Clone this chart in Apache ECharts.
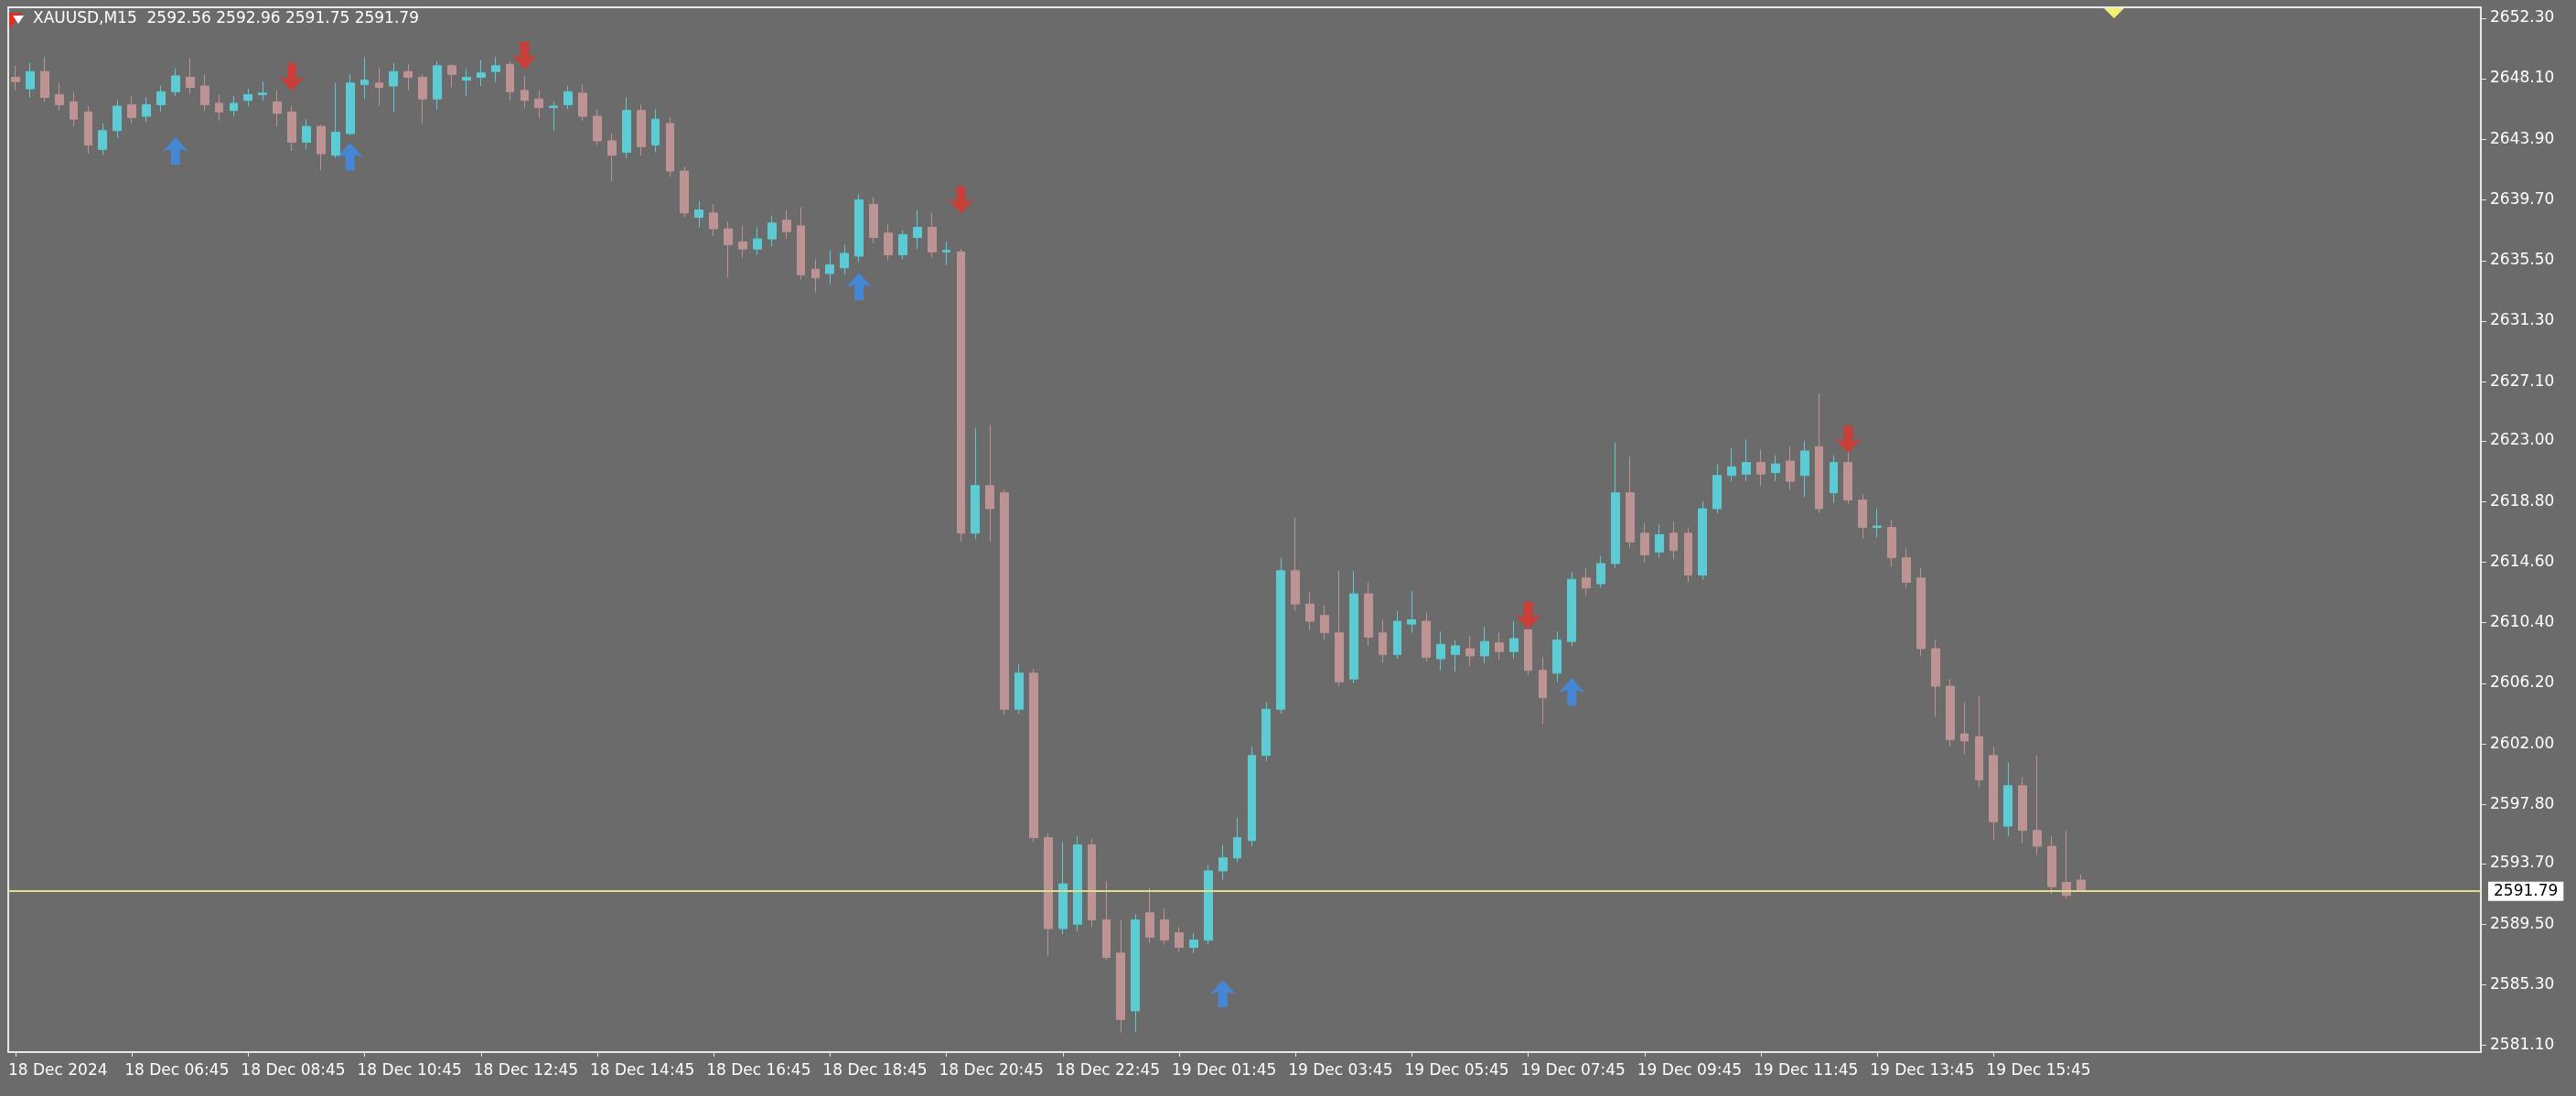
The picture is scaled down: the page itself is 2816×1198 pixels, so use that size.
<!DOCTYPE html>
<html><head><meta charset="utf-8">
<script src="https://cdn.jsdelivr.net/npm/echarts@6/dist/echarts.min.js"></script>
<style>html,body{margin:0;padding:0;background:#6b6b6b}#c{width:2816px;height:1198px}</style>
</head><body><div id="c"></div>
<script>
// [open, high, low, close] per 15-minute bar
const ohlc = [
[2648.2,2649.0,2647.3,2647.9],[2647.4,2649.2,2646.8,2648.6],[2648.6,2649.6,2646.5,2646.8],[2647.0,2647.8,2645.9,2646.3],
[2646.5,2647.2,2644.8,2645.3],[2645.8,2646.2,2642.9,2643.5],[2643.2,2645.0,2642.8,2644.5],[2644.5,2646.6,2644.0,2646.2],
[2646.3,2646.9,2645.0,2645.4],[2645.5,2646.8,2645.1,2646.3],[2646.3,2647.6,2645.8,2647.2],[2647.2,2648.8,2646.9,2648.3],
[2648.2,2649.5,2647.1,2647.5],[2647.6,2648.4,2645.9,2646.3],[2646.4,2647.0,2645.2,2645.8],[2645.9,2646.9,2645.5,2646.4],
[2646.6,2647.4,2646.2,2647.0],[2647.0,2647.9,2646.6,2647.1],[2646.5,2647.3,2644.8,2645.7],[2645.8,2646.2,2643.1,2643.7],
[2643.7,2645.3,2643.2,2644.8],[2644.8,2644.9,2641.8,2642.9],[2642.8,2647.8,2642.6,2644.4],[2644.3,2648.4,2644.2,2647.8],
[2647.7,2649.6,2646.7,2648.0],[2647.8,2648.9,2646.2,2647.5],[2647.6,2649.2,2645.8,2648.6],[2648.6,2649.1,2647.3,2648.2],
[2648.2,2648.4,2645.0,2646.7],[2646.7,2649.3,2646.0,2649.0],[2649.0,2649.1,2647.5,2648.4],[2648.0,2648.8,2646.9,2648.2],
[2648.2,2649.4,2647.6,2648.5],[2648.6,2649.6,2647.9,2649.0],[2649.1,2649.3,2646.6,2647.2],[2647.3,2648.3,2646.1,2646.6],
[2646.7,2647.3,2645.4,2646.1],[2646.1,2646.5,2644.5,2646.2],[2646.3,2647.6,2646.0,2647.2],[2647.1,2647.7,2645.2,2645.5],
[2645.5,2646.0,2643.5,2643.8],[2643.8,2644.3,2641.0,2642.8],[2643.0,2646.8,2642.6,2645.9],[2645.9,2646.3,2642.8,2643.4],
[2643.5,2646.0,2643.0,2645.3],[2645.0,2645.4,2641.3,2641.7],[2641.7,2642.0,2638.5,2638.8],[2638.5,2639.6,2637.8,2639.0],
[2638.8,2639.4,2637.2,2637.7],[2637.7,2638.2,2634.3,2636.6],[2636.8,2637.9,2635.7,2636.3],[2636.3,2637.8,2635.9,2637.0],
[2637.0,2638.6,2636.5,2638.1],[2638.3,2639.0,2637.0,2637.5],[2637.9,2639.2,2634.2,2634.5],[2634.9,2635.6,2633.3,2634.3],
[2634.6,2636.2,2633.9,2635.2],[2635.0,2636.6,2634.5,2636.0],[2635.8,2640.1,2635.4,2639.7],[2639.4,2639.9,2636.7,2637.1],
[2637.4,2638.0,2635.5,2635.9],[2635.9,2637.6,2635.6,2637.3],[2637.1,2639.0,2636.3,2637.8],[2637.8,2638.8,2635.7,2636.1],
[2636.1,2636.8,2635.2,2636.2],[2636.1,2636.3,2616.0,2616.6],[2616.6,2623.9,2616.2,2619.9],[2619.9,2624.1,2616.0,2618.3],
[2619.4,2619.6,2604.0,2604.4],[2604.4,2607.5,2604.1,2606.9],[2606.9,2607.2,2595.2,2595.5],[2595.5,2595.8,2587.3,2589.2],
[2589.2,2595.2,2588.8,2592.3],[2589.5,2595.6,2589.0,2595.0],[2595.0,2595.4,2589.3,2589.8],[2589.8,2592.5,2587.0,2587.2],
[2587.5,2589.8,2582.0,2582.9],[2583.5,2590.2,2582.0,2589.8],[2590.3,2592.0,2588.2,2588.6],[2589.8,2590.6,2588.1,2588.4],
[2588.9,2589.3,2587.6,2587.9],[2587.9,2588.9,2587.5,2588.4],[2588.4,2593.6,2588.1,2593.2],[2593.2,2595.0,2592.6,2594.1],
[2594.1,2596.9,2593.8,2595.5],[2595.3,2601.8,2594.9,2601.2],[2601.2,2604.9,2600.8,2604.4],[2604.4,2614.9,2604.1,2614.0],
[2614.0,2617.7,2611.2,2611.7],[2611.7,2612.5,2609.9,2610.5],[2610.9,2611.6,2609.2,2609.7],[2609.7,2614.0,2606.0,2606.3],
[2606.5,2614.0,2606.2,2612.4],[2612.4,2613.2,2608.8,2609.4],[2609.7,2610.6,2607.6,2608.2],[2608.2,2611.2,2607.9,2610.5],
[2610.3,2612.6,2609.7,2610.6],[2610.5,2611.1,2607.7,2608.0],[2607.9,2609.8,2607.1,2608.9],[2608.2,2609.2,2607.0,2608.8],
[2608.6,2609.5,2607.4,2608.1],[2608.1,2610.1,2607.6,2609.1],[2609.0,2609.7,2607.8,2608.4],[2608.4,2610.5,2607.9,2609.3],
[2609.9,2610.6,2606.8,2607.1],[2607.1,2608.0,2603.4,2605.2],[2606.9,2609.8,2606.3,2609.2],[2609.1,2613.9,2608.8,2613.4],
[2613.5,2614.2,2612.3,2612.8],[2613.1,2615.0,2612.8,2614.5],[2614.5,2622.9,2614.2,2619.4],[2619.4,2621.9,2615.6,2616.0],
[2616.6,2617.3,2614.6,2615.1],[2615.3,2617.2,2614.9,2616.5],[2616.6,2617.4,2614.8,2615.4],[2616.6,2617.0,2613.2,2613.7],
[2613.7,2618.8,2613.4,2618.3],[2618.3,2621.4,2618.0,2620.6],[2620.6,2622.5,2620.2,2621.2],[2620.7,2623.1,2620.2,2621.5],
[2621.5,2622.4,2619.9,2620.7],[2620.8,2622.0,2620.2,2621.4],[2621.6,2622.6,2619.6,2620.2],[2620.6,2623.0,2619.1,2622.3],
[2622.6,2626.3,2618.0,2618.3],[2619.4,2622.0,2618.7,2621.5],[2621.5,2622.3,2618.6,2618.9],[2618.9,2619.3,2616.2,2617.0],
[2617.0,2618.3,2616.3,2617.1],[2617.0,2617.5,2614.3,2614.9],[2614.9,2615.6,2612.8,2613.2],[2613.5,2614.2,2608.1,2608.6],
[2608.6,2609.2,2603.9,2606.0],[2606.0,2606.5,2601.8,2602.3],[2602.7,2604.9,2601.3,2602.2],[2602.5,2605.3,2599.0,2599.5],
[2601.2,2601.8,2595.3,2596.6],[2596.3,2600.7,2595.6,2599.1],[2599.1,2599.7,2595.1,2596.0],[2596.0,2601.2,2594.3,2594.9],
[2594.9,2595.6,2591.6,2592.1],[2592.4,2596.0,2591.3,2591.5],[2592.56,2592.96,2591.75,2591.79]
];
// signal arrows: bar index and price level where the arrow sits
const sellIdx = [19, 35, 65, 104, 126];
const sellPrice = [2648.2, 2649.7, 2639.7, 2610.9, 2623.1];
const buyIdx = [11, 23, 58, 83, 107];
const buyPrice = [2643.1, 2642.7, 2633.7, 2584.7, 2605.6];
const priceTicks = [2581.10,2585.30,2589.50,2593.70,2597.80,2602.00,2606.20,2610.40,2614.60,2618.80,2623.00,2627.10,2631.30,2635.50,2639.70,2643.90,2648.10,2652.30];
const lastPrice = 2591.79;
const titleText = 'XAUUSD,M15  2592.56 2592.96 2591.75 2591.79';
const totalSlots = 170;

const pad = n => String(n).padStart(2, '0');
const cats = [];
for (let i = 0; i < totalSlots; i++) {
  let day, m;
  if (i <= 76) { day = 18; m = 4*60+45+15*i; } else { day = 19; m = 60+15*(i-77); }
  cats.push(i === 0 ? '18 Dec 2024' : day + ' Dec ' + pad(Math.floor(m/60)) + ':' + pad(m%60));
}
const candles = ohlc.map(r => [r[0], r[3], r[2], r[1]]);
const sellPts = sellIdx.map((i, k) => [i, sellPrice[k]]);
const buyPts = buyIdx.map((i, k) => [i, buyPrice[k]]);
const arrowPath = 'path://M50,0 L100,52 L68,44 L68,100 L32,100 L32,44 L0,52 Z';

const chart = echarts.init(document.getElementById('c'));
const fontFam = 'DejaVu Sans';
chart.setOption({
  backgroundColor: '#6b6b6b',
  animation: false,
  grid: { left: 9, right: 104, top: 8, bottom: 48, show: true, borderColor: '#e8e8e8', borderWidth: 2, backgroundColor: 'transparent' },
  xAxis: {
    type: 'category', data: cats, boundaryGap: true,
    axisLine: { show: false },
    axisTick: { show: true, alignWithLabel: true, length: 5, lineStyle: { color: '#e8e8e8' }, interval: (i) => i % 8 === 0 && i <= 142 },
    axisLabel: { color: '#ffffff', fontFamily: fontFam, fontSize: 17, align: 'left', margin: 12,
      interval: (i) => i % 8 === 0 && i <= 142, padding: [0,0,0,-8] },
    splitLine: { show: false }
  },
  yAxis: {
    type: 'value', position: 'right', min: 2580.64, max: 2653.05, scale: true,
    axisLine: { show: false },
    axisTick: { show: true, length: 6, lineStyle: { color: '#e8e8e8' }, customValues: priceTicks },
    axisLabel: { color: '#ffffff', fontFamily: fontFam, fontSize: 17, margin: 10, customValues: priceTicks,
      formatter: v => v.toFixed(2) },
    splitLine: { show: false }
  },
  series: [
    { type: 'candlestick', data: candles, barWidth: '58%',
      itemStyle: { color: '#5ccbd3', color0: '#bd9393', borderColor: '#5ccbd3', borderColor0: '#bd9393', borderWidth: 1 },
      markLine: { symbol: 'none', silent: true,
        lineStyle: { color: '#dede8c', width: 2, type: 'solid' },
        label: { position: 'end', formatter: lastPrice.toFixed(2), color: '#000', backgroundColor: '#ffffff',
          fontFamily: fontFam, fontSize: 17, padding: [2, 6], distance: 8 },
        data: [{ yAxis: lastPrice }] } },
    { type: 'scatter', data: sellPts, symbol: arrowPath, symbolRotate: 180, symbolSize: [28, 30],
      itemStyle: { color: '#e0352d' }, z: 5 },
    { type: 'scatter', data: buyPts, symbol: arrowPath, symbolSize: [28, 30],
      itemStyle: { color: '#3d8ff0' }, z: 5 }
  ],
  graphic: [
    { type: 'polygon', shape: { points: [[10,14],[24,14],[10,32]] }, style: { fill: '#e52a20' } },
    { type: 'polygon', shape: { points: [[14,17],[26,17],[20,26]] }, style: { fill: '#ffffff' } },
    { type: 'text', left: 36, top: 12, style: { text: titleText, fill: '#ffffff', font: '17px DejaVu Sans' } },
    { type: 'polygon', shape: { points: [[2300,9],[2322,9],[2311,20]] }, style: { fill: '#f2f26e' } }
  ]
});
</script></body></html>
